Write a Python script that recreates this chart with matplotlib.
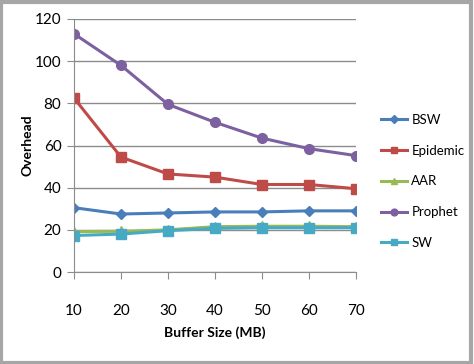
import numpy as np
import matplotlib
matplotlib.use("Agg")
import matplotlib.pyplot as plt
from matplotlib.patches import Rectangle

buffer_size = [10, 20, 30, 40, 50, 60, 70]

bsw = [30.5, 27.5, 28, 28.5, 28.5, 29, 29]
epidemic = [82.5, 54.5, 46.5, 45, 41.5, 41.5, 39.5]
aar = [19.2, 19.3, 20, 21.5, 21.7, 21.7, 21.5]
prophet = [113, 98, 79.5, 71, 63.5, 58.5, 55.2]
sw = [17.3, 18, 19.6, 20.7, 21, 21, 21]

names = ["BSW", "Epidemic", "AAR", "Prophet", "SW"]
colors = ["#4A7EBB", "#BE4B48", "#98B954", "#7D60A0", "#46AAC5"]
markers = ["D", "s", "^", "o", "s"]
msizes = [5.5, 7, 7, 7, 7]

plt.rcParams['font.family'] = ['Lato', 'DejaVu Sans']

fig = plt.figure(figsize=(4.74, 3.64), dpi=100)
W, H = 474, 364
ax = fig.add_axes([74 / W, 1 - 272 / H, (356 - 74) / W, (272 - 19) / H])

series = [bsw, epidemic, aar, prophet, sw]
for name, vals, c, m, ms in zip(names, series, colors, markers, msizes):
    ax.plot(buffer_size, vals, color=c, lw=2.2, marker=m, ms=ms,
            markeredgecolor=c, label=name)

ax.set_xlim(10, 70)
ax.set_ylim(0, 120)
ax.set_xticks(buffer_size)
ax.set_yticks(range(0, 121, 20))
ax.yaxis.grid(True, color="#8c8c8c", lw=1)
ax.set_axisbelow(True)
for s in ["top", "right"]:
    ax.spines[s].set_visible(False)
for s in ["left", "bottom"]:
    ax.spines[s].set_color("#8c8c8c")
ax.tick_params(axis="x", direction="out", length=5, color="#8c8c8c", pad=18, labelsize=11)
ax.tick_params(axis="y", direction="out", length=5, color="#8c8c8c", pad=4, labelsize=11)

# axis titles placed like the original
fig.text(215 / W, 1 - 333 / H, "Buffer Size (MB)", fontsize=10,
         fontweight="bold", ha="center", va="center")
fig.text(28 / W, 1 - 145 / H, "Overhead", fontsize=10, fontweight="bold",
         rotation=90, ha="center", va="center")

ax.legend(loc="upper left", bbox_to_anchor=(381 / W, 1 - 114 / H),
          bbox_transform=fig.transFigure, frameon=False, fontsize=9.5,
          handlelength=2.0, handletextpad=0.3, labelspacing=1.42,
          markerscale=0.7, borderaxespad=0, borderpad=0)

# grey frame around the picture
fig.patches.append(Rectangle((1 / W, 1.5 / H), 1 - 4.5 / W, 1 - 3 / H,
                             transform=fig.transFigure, fill=False,
                             edgecolor="#a6a6a6", lw=3))

fig.savefig("out.png", dpi=100)
